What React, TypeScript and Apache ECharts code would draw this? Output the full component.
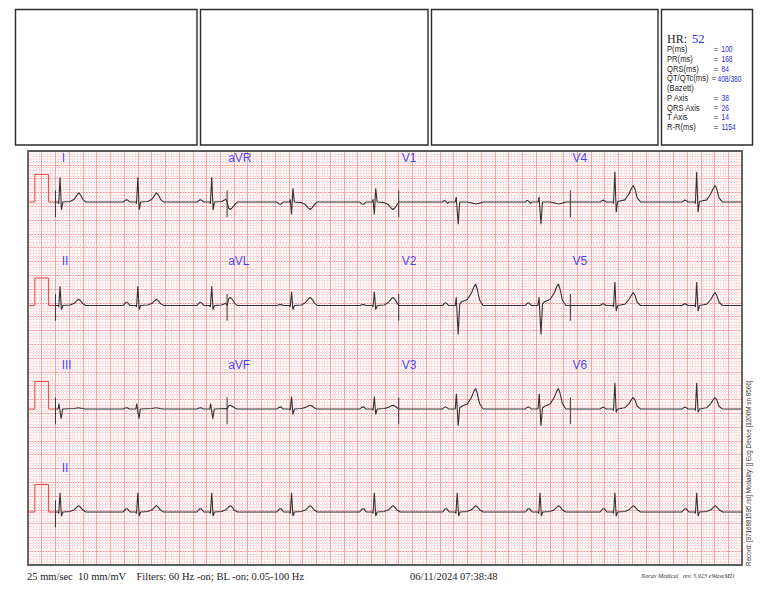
import { useEffect, useRef } from "react";
import * as echarts from "echarts";

// 12-lead layout: three rows of four 2.5 s columns plus a 10 s rhythm strip of lead II
const ROW_LEADS = [
  ["I", "aVR", "V1", "V4"],
  ["II", "aVL", "V2", "V5"],
  ["III", "aVF", "V3", "V6"],
  ["II"],
];
// baseline of each row, in mV on the paper (10 mm/mV, 150 mm tall)
const ROW_BASELINES = [13.15, 9.4, 5.65, 1.92];
// R-wave peaks, ms from the start of the recording
const BEAT_TIMES = [73, 1206, 2282, 3445, 4651, 5858, 7064, 8154, 9346];
// where each column's lead name is written, ms
const LABEL_TIMES = [90, 2515, 5045, 7530];
const STRIP_MS = 10000;

// one beat of each lead: [ms from R peak, mV]
const BEAT_I: [number, number][] = [
  [-220, 0], [-200, 0.04], [-180, 0.08], [-160, 0.08], [-140, 0.04], [-120, 0],
  [-35, 0], [-25, -0.06], [-6, 0.9], [14, -0.28], [34, 0], [140, 0.02],
  [200, 0.1], [240, 0.25], [265, 0.33], [290, 0.27], [325, 0.1], [370, 0],
];
const BEAT_II: [number, number][] = [
  [-220, 0], [-200, 0.06], [-180, 0.12], [-160, 0.12], [-140, 0.06], [-120, 0],
  [-35, 0], [-25, -0.05], [-6, 0.7], [14, -0.15], [34, 0], [140, 0.02],
  [200, 0.08], [240, 0.18], [265, 0.23], [290, 0.18], [325, 0.07], [370, 0],
];
const BEAT_III: [number, number][] = [
  [-220, 0], [-190, 0.04], [-160, 0.05], [-130, 0],
  [-35, 0], [-22, 0.2], [-5, -0.1], [10, -0.35], [30, 0], [200, 0.02],
  [260, 0.05], [320, 0.02], [370, 0],
];
const BEAT_AVR: [number, number][] = [
  [-220, 0], [-190, -0.06], [-160, -0.08], [-130, 0],
  [-35, 0], [-25, 0.1], [-6, -0.45], [14, 0.5], [34, 0], [140, -0.02],
  [200, -0.1], [240, -0.22], [265, -0.27], [295, -0.2], [330, -0.08], [370, 0],
];
const BEAT_AVL: [number, number][] = [
  [-220, 0], [-190, 0.03], [-160, 0.04], [-130, 0],
  [-35, 0], [-25, -0.05], [-6, 0.5], [14, -0.15], [34, 0], [140, 0.02],
  [200, 0.12], [240, 0.24], [265, 0.3], [295, 0.22], [330, 0.08], [370, 0],
];
const BEAT_AVF: [number, number][] = [
  [-220, 0], [-190, 0.06], [-160, 0.08], [-130, 0],
  [-35, 0], [-25, -0.04], [-6, 0.45], [14, -0.2], [34, 0], [140, 0.02],
  [200, 0.06], [240, 0.12], [265, 0.14], [295, 0.1], [330, 0.04], [370, 0],
];
const BEAT_V1: [number, number][] = [
  [-220, 0], [-195, 0.06], [-170, 0.03], [-150, -0.04], [-125, 0],
  [-35, 0], [-20, 0.18], [8, -0.8], [30, 0], [140, 0],
  [220, -0.04], [270, -0.07], [330, -0.03], [370, 0],
];
const BEAT_V2: [number, number][] = [
  [-220, 0], [-200, 0.06], [-180, 0.1], [-160, 0.08], [-130, 0],
  [-35, 0], [-20, 0.3], [8, -1.05], [30, 0.05], [60, 0.14], [140, 0.22],
  [200, 0.45], [240, 0.7], [262, 0.78], [285, 0.6], [320, 0.2], [370, 0],
];
const BEAT_V3: [number, number][] = [
  [-220, 0], [-200, 0.05], [-180, 0.08], [-160, 0.06], [-130, 0],
  [-35, 0], [-18, 0.55], [8, -0.6], [30, 0.04], [60, 0.1], [140, 0.18],
  [200, 0.42], [240, 0.66], [262, 0.74], [285, 0.58], [320, 0.2], [370, 0],
];
const BEAT_V4: [number, number][] = [
  [-220, 0], [-200, 0.04], [-180, 0.07], [-160, 0.05], [-130, 0],
  [-35, 0], [-25, -0.05], [-6, 1.1], [14, -0.37], [34, 0.02], [140, 0.08],
  [200, 0.3], [240, 0.52], [262, 0.6], [285, 0.48], [320, 0.15], [370, 0],
];
const BEAT_V5: [number, number][] = [
  [-220, 0], [-200, 0.04], [-180, 0.07], [-160, 0.05], [-130, 0],
  [-35, 0], [-25, -0.05], [-6, 0.85], [14, -0.2], [34, 0], [140, 0.05],
  [200, 0.22], [240, 0.4], [262, 0.47], [285, 0.38], [320, 0.12], [370, 0],
];
const BEAT_V6: [number, number][] = [
  [-220, 0], [-200, 0.04], [-180, 0.07], [-160, 0.05], [-130, 0],
  [-35, 0], [-25, -0.05], [-6, 0.95], [14, -0.12], [34, 0], [140, 0.05],
  [200, 0.2], [240, 0.36], [262, 0.42], [285, 0.34], [320, 0.1], [370, 0],
];
const LEAD_BEATS: Record<string, [number, number][]> = {
  I: BEAT_I, II: BEAT_II, III: BEAT_III,
  aVR: BEAT_AVR, aVL: BEAT_AVL, aVF: BEAT_AVF,
  V1: BEAT_V1, V2: BEAT_V2, V3: BEAT_V3, V4: BEAT_V4, V5: BEAT_V5, V6: BEAT_V6,
};

// 1 mV calibration pulse in front of every row: [ms, mV]
const CAL_PULSE: [number, number][] = [[-400, 0], [-300, 0], [-300, 1], [-100, 1], [-100, 0], [0, 0]];
// lead-change tick: [top, bottom] in mV
const LEAD_TICK = [0.42, -0.55];

// measurement panel
const MEASURE_LABELS = ["P(ms)", "PR(ms)", "QRS(ms)", "QT/QTc(ms)", "(Bazett)", "P Axis", "QRS Axis", "T Axis", "R-R(ms)"];
const MEASURE_VALUES = ["100", "168", "84", "408/380", "", "38", "26", "14", "1154"];
const HEART_RATE = "52";

const FOOTER_LEFT = "25 mm/sec  10 mm/mV    Filters: 60 Hz -on; BL -on; 0.05-100 Hz";
const FOOTER_DATE = "06/11/2024 07:38:48";
const FOOTER_SOFTWARE = "Norav Medical   rev. 5.923 eWaveMD";
const SIDE_RECORD = "Record: [9716881595.rst] Modality: [] Ecg Device [1200M sn 8566]";

function buildTrace(leads: string[], base: number): [number, number][] {
  const span = STRIP_MS / leads.length;
  const pts: [number, number][] = [];
  leads.forEach((lead, c) => {
    const start = c * span;
    const end = start + span;
    const shape = LEAD_BEATS[lead];
    pts.push([start, base]);
    BEAT_TIMES.forEach((r) => {
      shape.forEach(([dt, v]) => {
        const t = r + dt;
        if (t > start && t < end) pts.push([t, base + v]);
      });
    });
    pts.push([end, base]);
  });
  return pts;
}

export default function App() {
  const ref = useRef<HTMLDivElement>(null);

  useEffect(() => {
    document.body.style.margin = "0";
    const chart = echarts.init(ref.current!, undefined, { renderer: "svg" });
    const sans = "Liberation Sans, Arial, sans-serif";
    const serif = "Liberation Serif, Times New Roman, serif";

    const series: any[] = [];
    ROW_LEADS.forEach((leads, row) => {
      const base = ROW_BASELINES[row];
      series.push({
        type: "line",
        data: CAL_PULSE.map(([t, v]) => [t, base + v]),
        showSymbol: false,
        lineStyle: { color: "#e5453f", width: 1 },
        silent: true,
      });
      series.push({
        type: "line",
        data: buildTrace(leads, base),
        showSymbol: false,
        lineStyle: { color: "#333333", width: 1.1 },
        silent: true,
      });
      const span = STRIP_MS / leads.length;
      leads.forEach((lead, c) => {
        series.push({
          type: "line",
          data: LEAD_TICK.map((v) => [c * span, base + v]),
          showSymbol: false,
          lineStyle: { color: "#333333", width: 1 },
          silent: true,
        });
      });
      series.push({
        type: "scatter",
        symbolSize: 0,
        silent: true,
        data: leads.map((lead, c) => ({ value: [LABEL_TIMES[c], base + 1.6], name: lead })),
        label: {
          show: true,
          position: "right",
          distance: 0,
          formatter: (p: any) => p.name,
          color: "#1414ff",
          fontSize: 12,
          fontFamily: sans,
        },
      });
    });

    const graphic: any[] = [];
    // header boxes
    const boxes = [
      [15.5, 9.5, 181.5, 135.5],
      [200.5, 9.5, 227.5, 135.5],
      [431.5, 9.5, 226.5, 135.5],
      [661.5, 9.5, 91, 135.5],
    ];
    boxes.forEach(([x, y, w, h]) => {
      graphic.push({
        type: "rect",
        shape: { x, y, width: w, height: h },
        style: { fill: "none", stroke: "#2a2a2a", lineWidth: 1.4 },
        silent: true,
      });
    });
    graphic.push({
      type: "text",
      x: 667,
      y: 39,
      style: { text: "HR:", fontSize: 12, fontFamily: serif, fill: "#222", verticalAlign: "middle" },
    });
    graphic.push({
      type: "text",
      x: 692,
      y: 39,
      style: { text: HEART_RATE, fontSize: 12.5, fontFamily: serif, fill: "#2a2ad8", verticalAlign: "middle" },
    });
    MEASURE_LABELS.forEach((lab, i) => {
      const y = 49.7 + i * 9.7;
      graphic.push({
        type: "text", x: 667, y, scaleX: 0.92,
        style: { text: lab, fontSize: 8.3, fontFamily: sans, fill: "#222", verticalAlign: "middle" },
      });
      if (MEASURE_VALUES[i]) {
        const wide = lab.length > 8;
        graphic.push({
          type: "text", x: wide ? 711.5 : 713.5, y,
          style: { text: "=", fontSize: 8, fontFamily: sans, fill: "#222", verticalAlign: "middle" },
        });
        graphic.push({
          type: "text", x: wide ? 717.5 : 721.5, y, scaleX: 0.78,
          style: { text: MEASURE_VALUES[i], fontSize: 8.5, fontFamily: sans, fill: "#2a2ad8", verticalAlign: "middle" },
        });
      }
    });
    // paper frame
    graphic.push({
      type: "rect",
      shape: { x: 28, y: 151, width: 714, height: 414 },
      style: { fill: "none", stroke: "#5a5a5a", lineWidth: 1.8 },
      silent: true,
      z: 10,
    });
    // footer
    graphic.push({
      type: "text", x: 27, y: 576,
      style: { text: FOOTER_LEFT, fontSize: 10.5, fontFamily: serif, fill: "#222", verticalAlign: "middle" },
    });
    graphic.push({
      type: "text", x: 410, y: 576,
      style: { text: FOOTER_DATE, fontSize: 10.5, fontFamily: serif, fill: "#222", verticalAlign: "middle" },
    });
    graphic.push({
      type: "text", x: 641, y: 575,
      style: { text: FOOTER_SOFTWARE, fontSize: 6.2, fontStyle: "italic", fontFamily: serif, fill: "#333", verticalAlign: "middle" },
    });
    graphic.push({
      type: "text", x: 748, y: 566, rotation: Math.PI / 2,
      style: { text: SIDE_RECORD, fontSize: 6.3, fontFamily: sans, fill: "#333", verticalAlign: "middle", align: "left" },
    });

    const gridLines = (interval: number) => ({
      axisLine: { show: false },
      axisTick: { show: false },
      axisLabel: { show: false },
      interval,
      splitLine: { show: true, lineStyle: { color: "#f4a2a2", width: 1 } },
      minorTick: { show: false, splitNumber: 5 },
      minorSplitLine: { show: true, lineStyle: { color: "#fcdfdf", width: 1 } },
    });

    chart.setOption({
      animation: false,
      backgroundColor: "#ffffff",
      grid: { left: 28, top: 151, width: 714, height: 414, show: true, backgroundColor: "#ffffff", borderWidth: 0 },
      xAxis: { type: "value", min: -400, max: 10000, ...gridLines(200) },
      yAxis: { type: "value", min: 0, max: 15, ...gridLines(0.5) },
      series,
      graphic,
    });

    return () => chart.dispose();
  }, []);

  return <div ref={ref} style={{ position: "fixed", left: 0, top: 0, width: 768, height: 594 }} />;
}
